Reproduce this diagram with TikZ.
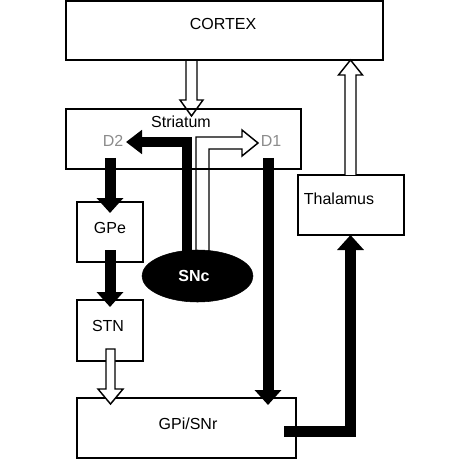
\documentclass[tikz,border=0pt]{standalone}
\usepackage{fontspec}
\setmainfont{Liberation Sans}
\usetikzlibrary{arrows.meta,shapes.geometric,calc}
\newcommand\hvarrow[6]{% x, ystart, ytip, shaft half, head half, yback
  \draw[hol] (#1-#4,#2) -- (#1-#4,#6) -- (#1-#5,#6) -- (#1,#3) -- (#1+#5,#6) -- (#1+#4,#6) -- (#1+#4,#2);}
\begin{document}
\begin{tikzpicture}[x=0.75pt,y=-0.75pt,
  box/.style={draw, line width=1.1pt, inner sep=0pt},
  lbl/.style={font=\fontsize{12}{14}\selectfont, inner sep=0pt},
  dlbl/.style={lbl, text=black!45},
  blk/.style={line width=8.25pt, line join=miter, -{Triangle[width=19.5pt,length=11.25pt]}},
  hol/.style={draw, fill=white, line width=1.1pt, line join=miter}]
\useasboundingbox[fill=white] (0,0) rectangle (470,470);

% hollow arrow SNc -> D1 (under the striatum border)
\draw[hol] (196,252) -- (196,137) -- (242,137) -- (242,130) -- (258,143) -- (242,156) -- (242,149) -- (209,149) -- (209,252);
% hollow arrow cortex -> striatum
\hvarrow{191.5}{60}{116}{5.5}{11.5}{100}

% boxes
\node[box, minimum width=237.75pt, minimum height=44.25pt] (cortex) at (224.5,30.5) {};
\node[box, minimum width=176.25pt, minimum height=45pt] (striatum) at (183.5,139) {};
\node[box, minimum width=49.5pt, minimum height=45pt] (gpe) at (110,232) {};
\node[box, minimum width=49.5pt, minimum height=45.75pt] (stn) at (110,330.5) {};
\node[box, minimum width=164.25pt, minimum height=45pt] (gpi) at (186.5,428) {};
\node[box, minimum width=79.5pt, minimum height=45pt] (thal) at (351,205) {};

% hollow arrows
\hvarrow{350.5}{175}{60}{5.5}{12}{75}
\draw[hol] (106,349) -- (106,389) -- (98,389) -- (110.5,404) -- (123,389) -- (115,389) -- (115,349) -- cycle;

% black arrows
\coordinate (d2s) at (110,158);
\coordinate (d2t) at (110,213);
\coordinate (gpes) at (110,250);
\coordinate (gpet) at (110,307);
\coordinate (d1s) at (268,158);
\coordinate (d1t) at (268,405);
\coordinate (gpis) at (284,431);
\coordinate (gpic) at (350.5,431);
\coordinate (thalt) at (350.5,235);
\coordinate (sncs) at (187,258);
\coordinate (sncc) at (187,142);
\coordinate (d2tip) at (126,142);
\draw[blk] (d2s) -- (d2t);
\draw[blk] (gpes) -- (gpet);
\draw[blk] (d1s) -- (d1t);
\draw[blk] (gpis) -- (gpic) -- (thalt);
\draw[line width=7.5pt, line join=miter, -{Triangle[width=17.5pt,length=12pt]}] (sncs) -- (sncc) -- (d2tip);

% SNc
\node[ellipse, fill=black, draw, minimum width=83.25pt, minimum height=39pt, inner sep=0pt] (snc) at (197.5,276) {};

% labels
\node[lbl] (tcortex) at (223,24) {CORTEX};
\node[lbl] (tstriatum) at (181,122) {Striatum};
\node[dlbl] (td2) at (113,141) {D2};
\node[dlbl] (td1) at (271,141) {D1};
\node[lbl] (tgpe) at (110,228) {GPe};
\node[lbl] (tstn) at (108,326) {STN};
\node[lbl] (tgpi) at (188,424) {GPi/SNr};
\node[lbl] (tthal) at (339,199) {Thalamus};
\node[lbl, text=white, font=\fontsize{12}{14}\selectfont\bfseries] (tsnc) at (194,276) {SNc};
\end{tikzpicture}
\end{document}
